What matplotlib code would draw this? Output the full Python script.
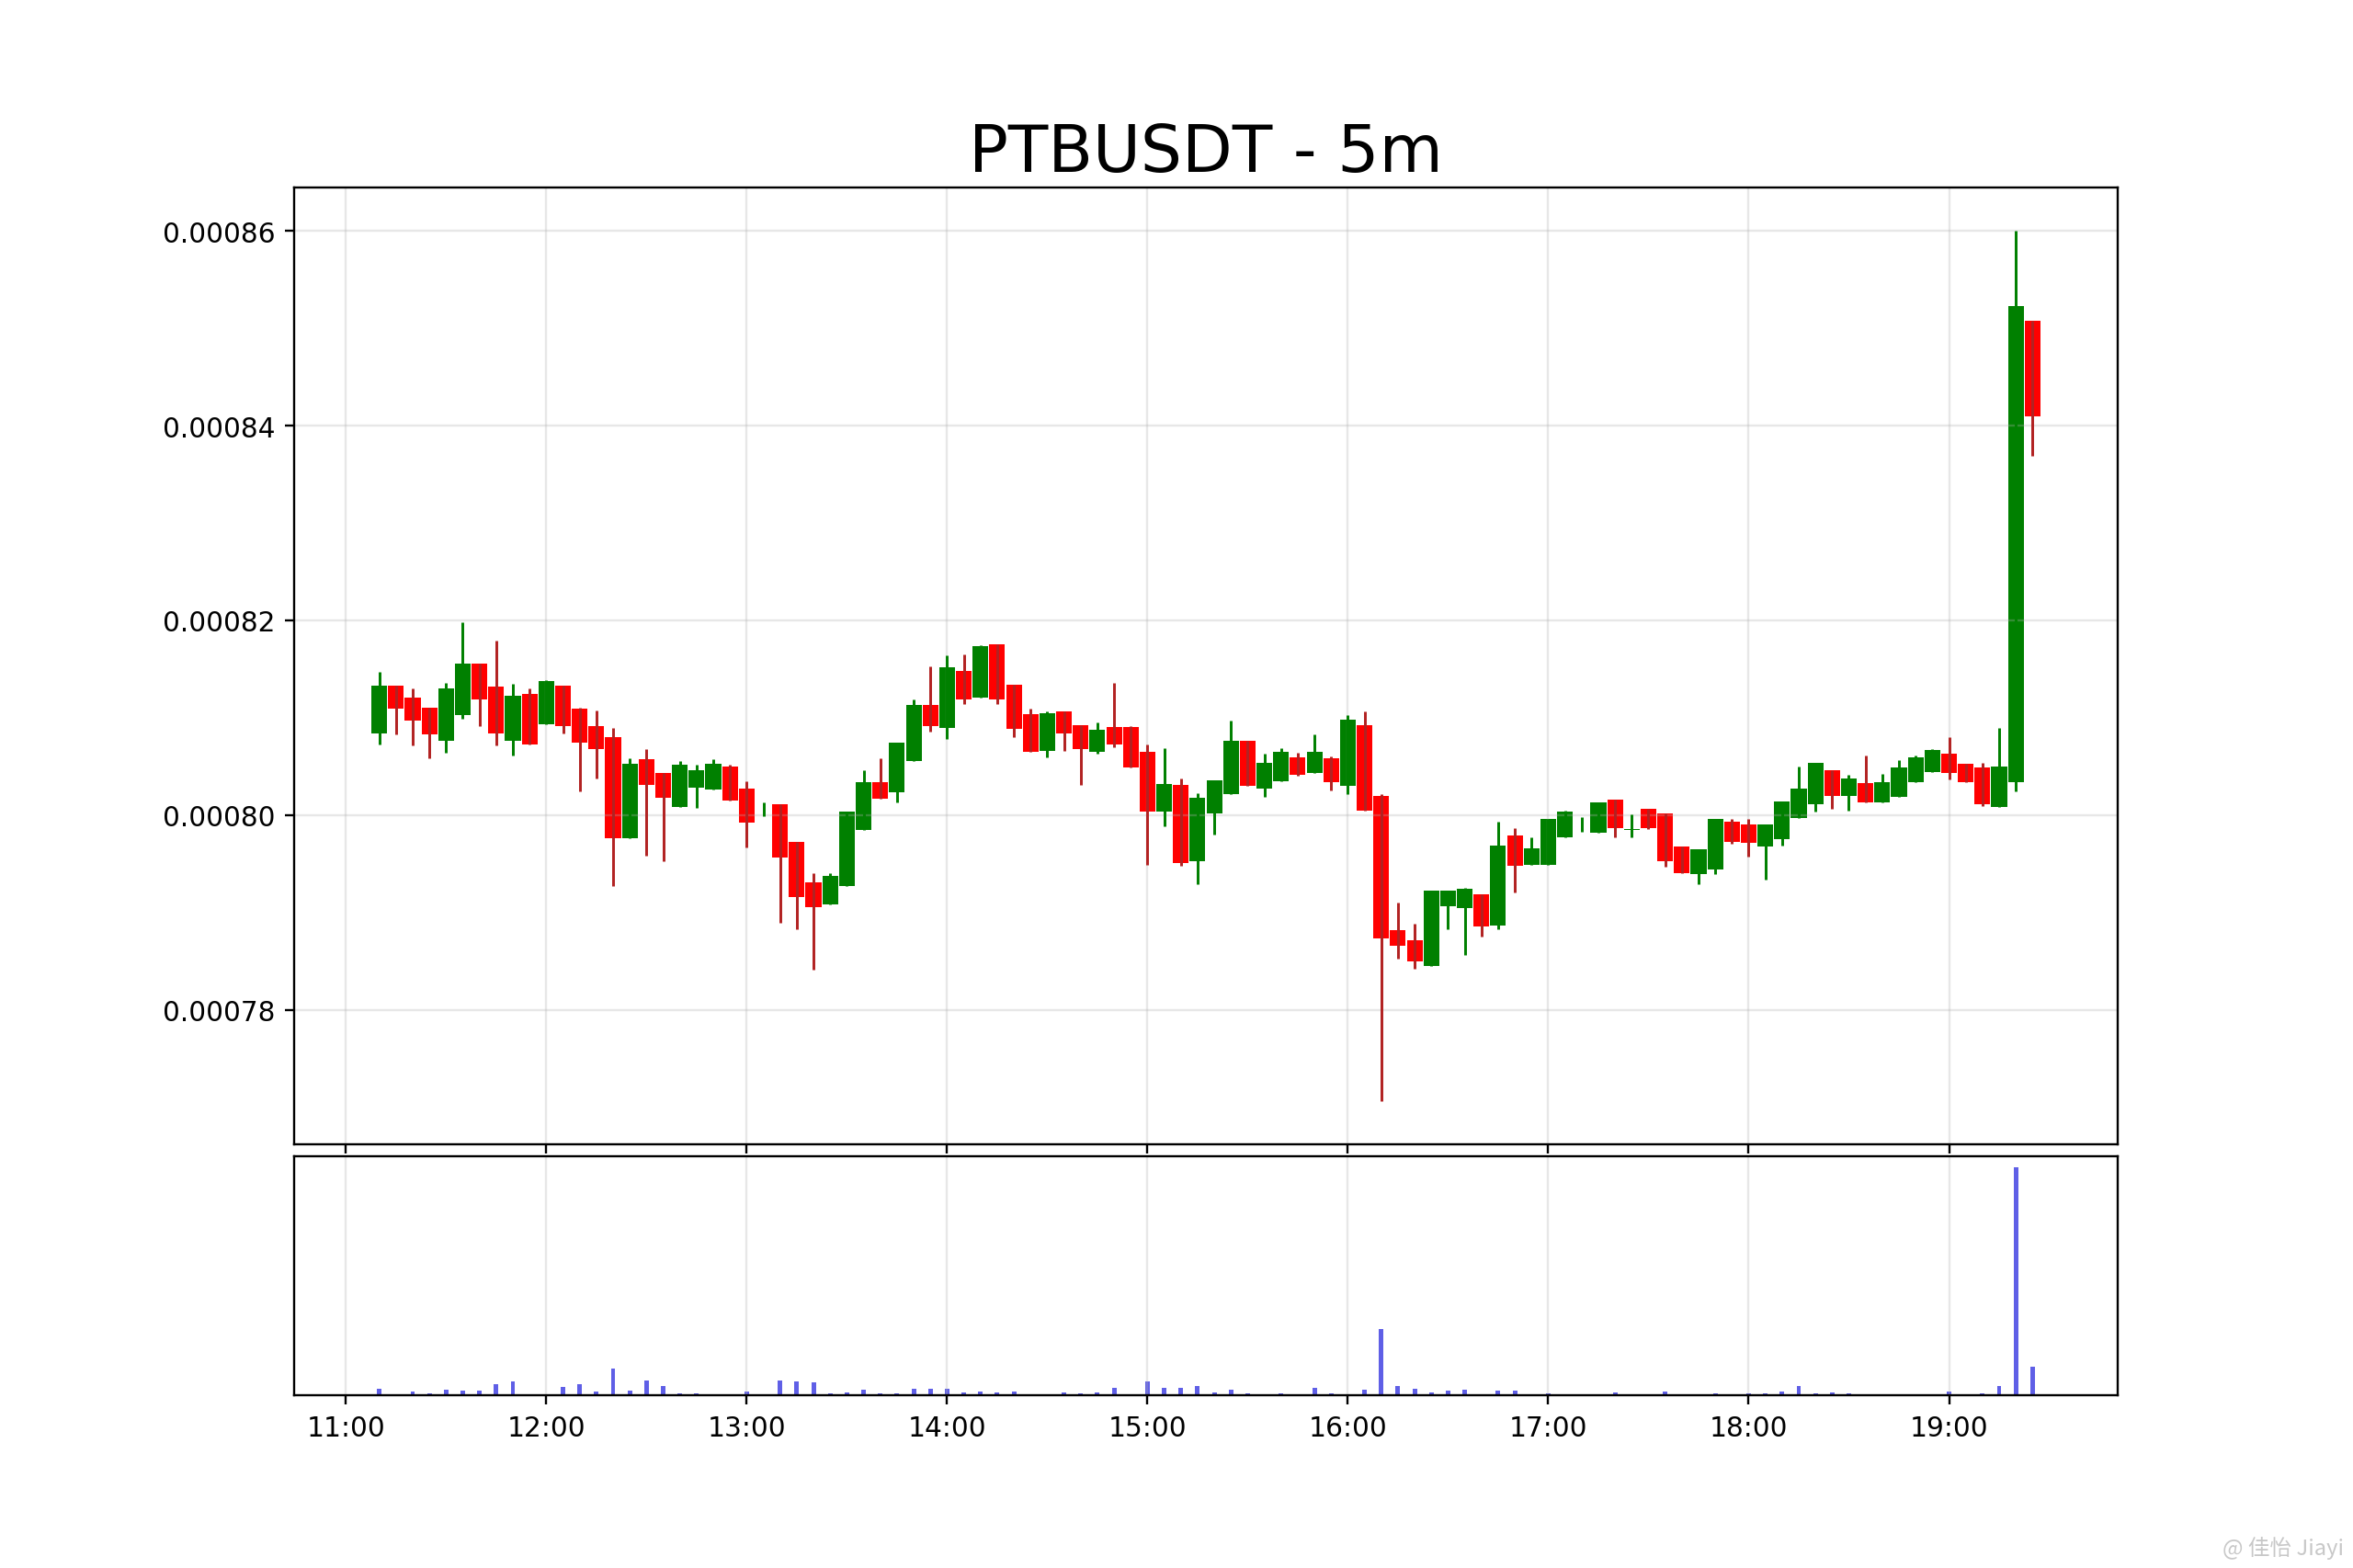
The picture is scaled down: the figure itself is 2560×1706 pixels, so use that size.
import matplotlib
matplotlib.use("Agg")
import matplotlib.pyplot as plt
import matplotlib.dates as mdates
from matplotlib.ticker import MultipleLocator, FormatStrFormatter
import numpy as np
import pandas as pd

symbol = "PTBUSDT"
interval = "5m"
# 5m candles 11:10 -> 19:25 (prices in 1e-6 USDT)
times = pd.date_range("2025-01-01 11:10", periods=100, freq="5min")

opens = [808.4, 813.3, 812.1, 811.1, 807.7, 810.3, 815.6, 813.2, 807.7, 812.5,
         809.4, 813.3, 811.0, 809.2, 808.0, 797.7, 805.8, 804.4, 800.9, 802.9,
         802.7, 805.0, 802.8, 800.0, 801.2, 797.3, 793.1, 790.9, 792.8, 798.5,
         803.4, 802.4, 805.6, 811.3, 809.0, 814.8, 812.1, 817.6, 813.4, 810.4,
         806.6, 810.7, 809.3, 806.5, 809.1, 809.1, 806.5, 800.4, 803.1, 795.3,
         800.2, 802.2, 807.7, 802.8, 803.5, 806.0, 804.4, 805.9, 803.0, 809.3,
         802.0, 788.2, 787.2, 784.5, 790.7, 790.5, 791.9, 788.7, 797.9, 794.9,
         794.9, 797.8, 799.0, 798.2, 801.6, 798.5, 800.7, 800.2, 796.8, 794.0,
         794.5, 799.4, 799.1, 796.8, 797.6, 799.7, 801.2, 804.6, 802.0, 803.3,
         801.3, 801.9, 803.4, 804.5, 806.3, 805.3, 804.9, 800.9, 803.4, 850.8]
highs = [814.7, 813.3, 813.0, 811.1, 813.6, 819.8, 815.6, 818.0, 813.5, 813.0,
         813.9, 813.3, 811.1, 810.8, 809.0, 805.9, 806.8, 804.4, 805.6, 805.2,
         805.8, 805.2, 803.5, 801.3, 801.2, 797.3, 794.1, 794.1, 800.4, 804.6,
         805.9, 807.5, 811.9, 815.3, 816.4, 816.5, 817.5, 817.6, 813.4, 811.0,
         810.7, 810.7, 809.3, 809.6, 813.6, 809.2, 807.3, 806.9, 803.8, 802.3,
         803.6, 809.7, 807.7, 806.3, 806.9, 806.4, 808.3, 806.1, 810.3, 810.7,
         802.2, 791.1, 788.9, 792.3, 792.3, 792.6, 791.9, 799.4, 798.7, 797.8,
         799.6, 800.5, 799.8, 801.3, 801.6, 800.1, 800.7, 800.2, 796.8, 796.5,
         799.6, 799.6, 799.6, 799.1, 801.4, 805.0, 805.4, 804.6, 804.2, 806.2,
         804.3, 805.7, 806.2, 806.8, 808.0, 805.3, 805.4, 809.0, 860.0, 850.8]
lows = [807.3, 808.3, 807.2, 805.9, 806.4, 809.9, 809.2, 807.2, 806.2, 807.3,
        809.4, 808.4, 802.5, 803.8, 792.8, 797.7, 795.9, 795.3, 800.9, 800.8,
        802.7, 801.5, 796.7, 799.9, 789.0, 788.3, 784.2, 790.9, 792.8, 798.5,
        801.7, 801.3, 805.6, 808.6, 807.9, 811.4, 812.1, 811.4, 808.0, 806.5,
        806.0, 806.6, 803.1, 806.3, 807.0, 804.9, 794.9, 798.9, 794.8, 792.9,
        798.0, 802.2, 803.0, 801.9, 803.5, 804.1, 804.4, 802.6, 802.2, 800.5,
        770.7, 785.3, 784.3, 784.5, 788.3, 785.7, 787.6, 788.3, 792.1, 794.9,
        794.9, 797.8, 798.3, 798.2, 797.8, 797.8, 798.6, 794.7, 794.1, 792.9,
        794.0, 797.1, 795.8, 793.4, 796.9, 799.7, 800.4, 800.7, 800.5, 801.3,
        801.3, 801.9, 803.4, 804.5, 803.7, 803.4, 801.0, 800.9, 802.5, 836.9]
closes = [813.3, 811.0, 809.7, 808.3, 813.0, 815.6, 811.9, 808.4, 812.3, 807.3,
          813.8, 809.2, 807.5, 806.8, 797.7, 805.3, 803.1, 801.8, 805.2, 804.6,
          805.3, 801.5, 799.3, 800.0, 795.7, 791.6, 790.6, 793.8, 800.4, 803.4,
          801.7, 807.5, 811.3, 809.2, 815.2, 811.9, 817.4, 811.9, 808.9, 806.5,
          810.5, 808.4, 806.8, 808.8, 807.3, 804.9, 800.4, 803.2, 795.1, 801.8,
          803.6, 807.7, 803.0, 805.4, 806.5, 804.2, 806.5, 803.4, 809.8, 800.5,
          787.4, 786.6, 785.0, 792.3, 792.3, 792.5, 788.6, 796.9, 794.8, 796.6,
          799.6, 800.4, 799.0, 801.3, 798.7, 798.6, 798.7, 795.3, 794.1, 796.5,
          799.6, 797.3, 797.2, 799.1, 801.4, 802.8, 805.4, 802.0, 803.8, 801.3,
          803.4, 804.9, 806.0, 806.7, 804.4, 803.4, 801.2, 805.0, 852.3, 841.0]
# volume, relative units (largest bar = 100)
volumes = [3.0, 0.7, 1.75, 0.8, 2.6, 2.0, 2.2, 4.9, 6.1, 0.4,
           0.7, 3.9, 5.1, 1.75, 11.9, 2.2, 6.7, 4.3, 0.9, 0.9,
           0.3, 0.15, 1.9, 0.4, 6.7, 6.2, 5.8, 0.9, 1.35, 2.6,
           0.8, 0.8, 2.8, 3.0, 3.0, 1.35, 1.75, 1.35, 1.75, 0.4,
           0.4, 1.35, 0.8, 1.35, 3.4, 0.55, 6.2, 3.4, 3.4, 4.2,
           1.35, 2.6, 0.8, 0.7, 0.8, 0.4, 3.4, 0.8, 0.55, 2.6,
           29.2, 4.2, 3.0, 1.35, 2.0, 2.6, 0.7, 2.0, 2.2, 0.3,
           0.9, 0.15, 0.1, 0.3, 1.35, 0.15, 0.1, 1.75, 0.3, 0.55,
           0.9, 0.55, 0.8, 0.9, 1.75, 4.0, 0.8, 1.35, 0.9, 0.7,
           0.1, 0.15, 0.1, 0.15, 1.75, 0.1, 0.8, 4.0, 100.0, 12.7]

o = np.array(opens) * 1e-6
h = np.array(highs) * 1e-6
l = np.array(lows) * 1e-6
c = np.array(closes) * 1e-6
x = mdates.date2num(times.to_pydatetime())
up = c >= o
dn = ~up

fig, (ax, axv) = plt.subplots(2, 1, figsize=(12, 8), sharex=True,
                              gridspec_kw={"height_ratios": [4, 1], "hspace": 0.02})

body_w = 4.7 / 1440
ax.vlines(x[up], l[up], h[up], color="green", lw=1)
ax.vlines(x[dn], l[dn], h[dn], color="firebrick", lw=1)
ax.bar(x[up], (c - o)[up], bottom=o[up], width=body_w, color="green", lw=0)
ax.bar(x[dn], (c - o)[dn], bottom=o[dn], width=body_w, color="red", lw=0)
ax.set_title(f"{symbol} - {interval}", fontsize=24)
ax.yaxis.set_major_locator(MultipleLocator(0.00002))
ax.yaxis.set_major_formatter(FormatStrFormatter("%.5f"))
ax.grid(alpha=0.3)
ax.tick_params(labelbottom=False)

vol_w = 1.36 / 1440
axv.bar(x, volumes, width=vol_w, color="#5f5fe6")
axv.set_yticks([])
axv.grid(alpha=0.3)
axv.xaxis.set_major_locator(mdates.HourLocator())
axv.xaxis.set_major_formatter(mdates.DateFormatter("%H:%M"))
# x range follows the thin volume bars (+5% margin), not the candle bodies
pad = (x[-1] - x[0] + vol_w) * 0.05 + vol_w / 2
axv.set_xlim(x[0] - pad, x[-1] + pad)

fig.text(0.996, 0.013, "@ 佳怡 Jiayi", ha="right", va="center", fontsize=8,
         color="#c8c8c8", family=["Noto Sans CJK SC", "DejaVu Sans"])

fig.savefig("out.png", dpi=2560 / 12)
